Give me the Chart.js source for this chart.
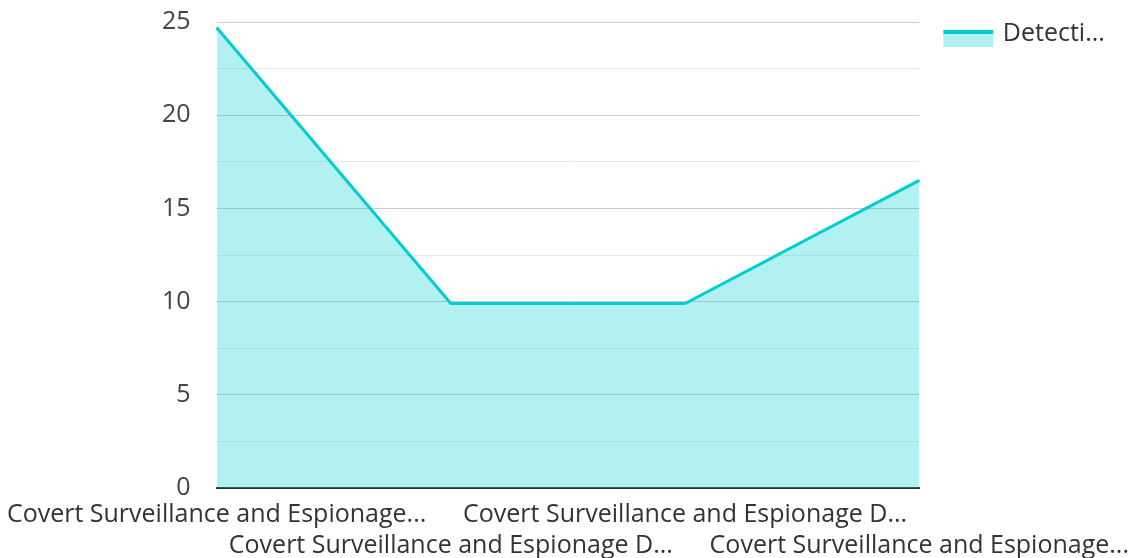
<!DOCTYPE html>
<html>
<head>
<meta charset="utf-8">
<script src="https://cdn.jsdelivr.net/npm/chart.js@4/dist/chart.umd.min.js"></script>
<style>
  html, body { margin: 0; padding: 0; background: #fff; }
  #wrap { width: 1132px; height: 558px; position: relative; }
</style>
</head>
<body>
<div id="wrap"><canvas id="c"></canvas></div>
<script>
const categories = [
  'Covert Surveillance and Espionage...',
  'Covert Surveillance and Espionage D...',
  'Covert Surveillance and Espionage D...',
  'Covert Surveillance and Espionage...'
];
const seriesLabel = 'Detecti...';
const seriesValues = [24.7, 9.9, 9.9, 16.5];
const yTicks = [0, 5, 10, 15, 20, 25];

const lineColor = '#00cfd1';
const fillColor = 'rgba(0,206,209,0.3)';

// legend swatch: line on top, light fill below (offset inside a transparent canvas)
const sw = document.createElement('canvas');
sw.width = 56; sw.height = 27;
const sctx = sw.getContext('2d');
sctx.fillStyle = fillColor; sctx.fillRect(6, 10, 50, 17);
sctx.fillStyle = lineColor; sctx.fillRect(6, 10, 50, 4);

// stagger labels in two rows
const staggered = categories.map((c, i) => i % 2 === 0 ? [c] : ['', c]);

Chart.defaults.font.family = '"Open Sans", "Noto Sans", sans-serif';
Chart.defaults.color = '#333';

new Chart(document.getElementById('c'), {
  type: 'line',
  data: {
    labels: staggered,
    datasets: [{
      label: seriesLabel,
      data: seriesValues,
      borderColor: lineColor,
      backgroundColor: fillColor,
      borderWidth: 3,
      fill: 'origin',
      tension: 0,
      pointRadius: 0,
      pointStyle: sw
    }]
  },
  options: {
    responsive: true,
    maintainAspectRatio: false,
    animation: false,
    layout: { padding: { top: 0, right: -2, left: 155, bottom: -6 } },
    plugins: {
      tooltip: { enabled: false },
      legend: {
        position: 'right',
        align: 'start',
        labels: {
          usePointStyle: true,
          pointStyleWidth: 50,
          font: { size: 25 },
          color: '#333',
          padding: 21
        }
      }
    },
    scales: {
      x: {
        offset: false,
        grid: { display: false },
        border: { display: true, color: '#333', width: 2 },
        ticks: {
          autoSkip: false,
          maxRotation: 0,
          minRotation: 0,
          padding: 3,
          font: { size: 25, lineHeight: 1.24 },
          color: '#333'
        }
      },
      y: {
        min: 0,
        max: 25,
        border: { display: false },
        grid: {
          drawTicks: true,
          tickLength: 19,
          tickColor: 'rgba(0,0,0,0)',
          color: ctx => (ctx.tick && ctx.tick.value % 5 === 0) ? '#cccccc' : '#e8e8e8',
          lineWidth: 1
        },
        ticks: {
          stepSize: 2.5,
          padding: 7,
          font: { size: 25 },
          color: '#444',
          callback: v => yTicks.includes(v) ? String(v) : ''
        }
      }
    }
  }
});
</script>
</body>
</html>
